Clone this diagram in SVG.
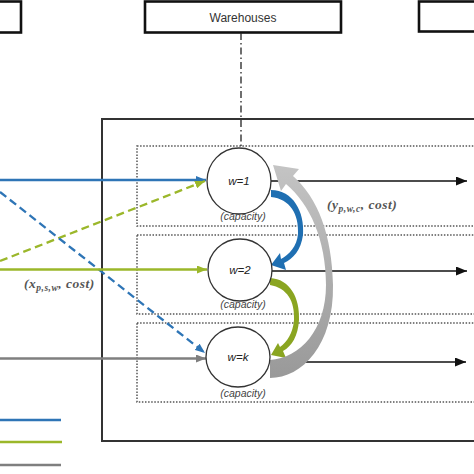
<svg xmlns="http://www.w3.org/2000/svg" width="474" height="474" viewBox="0 0 474 474">
<style>
.hdr{fill:#fff;stroke:#111;stroke-width:2.6}
.hdrt{font-family:"Liberation Sans",Arial,sans-serif;font-size:12px;fill:#333;text-anchor:middle}
.row{fill:none;stroke:#555;stroke-width:1.5;stroke-dasharray:1.5 1.6}
.node{fill:#fff;stroke:#333;stroke-width:1.3}
.nt{font-family:"Liberation Sans",Arial,sans-serif;font-style:italic;font-size:11.5px;fill:#222;text-anchor:middle}
.cap{font-family:"Liberation Sans",Arial,sans-serif;font-style:italic;font-size:10.5px;fill:#444;text-anchor:middle}
.math{font-family:"Liberation Serif","Times New Roman",serif;font-style:italic;font-weight:bold;font-size:13.5px;fill:#555;letter-spacing:0.5px}
.blue{stroke:#2e75b6;stroke-width:2.3;fill:none}
.green{stroke:#9bb72a;stroke-width:2.3;fill:none}
.gray{stroke:#7f7f7f;stroke-width:2.3;fill:none}
.black{stroke:#111;stroke-width:1.7;fill:none}
.dash{stroke-dasharray:8 4.5}
</style>
<defs>
<marker id="ab" markerUnits="userSpaceOnUse" markerWidth="10" markerHeight="8" refX="10" refY="4" orient="auto"><path d="M0,0 L10,4 L0,8 z" fill="#2e75b6"/></marker>
<marker id="ag" markerUnits="userSpaceOnUse" markerWidth="10" markerHeight="8" refX="10" refY="4" orient="auto"><path d="M0,0 L10,4 L0,8 z" fill="#9bb72a"/></marker>
<marker id="ay" markerUnits="userSpaceOnUse" markerWidth="10" markerHeight="8" refX="10" refY="4" orient="auto"><path d="M0,0 L10,4 L0,8 z" fill="#7f7f7f"/></marker>
<marker id="ak" markerUnits="userSpaceOnUse" markerWidth="11" markerHeight="9" refX="11" refY="4.5" orient="auto"><path d="M0,0 L11,4.5 L0,9 z" fill="#111"/></marker>
<linearGradient id="gg" x1="0" y1="0" x2="0" y2="1"><stop offset="0" stop-color="#c4c4c4"/><stop offset="1" stop-color="#999"/></linearGradient>
</defs>

<g id="header-left"><rect class="hdr" x="-10" y="1.5" width="31" height="31"/></g>
<g id="header-warehouses"><rect class="hdr" x="145" y="1.5" width="196" height="31"/><text class="hdrt" x="243" y="21.5">Warehouses</text></g>
<g id="header-right"><rect class="hdr" x="419" y="1.5" width="70" height="30"/></g>

<g id="frame"><rect x="102" y="119" width="400" height="322" fill="none" stroke="#333" stroke-width="2"/></g>
<g id="rows">
<rect class="row" x="137" y="146" width="345" height="80"/>
<rect class="row" x="137" y="235" width="345" height="79"/>
<rect class="row" x="137" y="323" width="345" height="79"/>
</g>

<g id="connectors">
<line x1="241" y1="33" x2="241" y2="148" stroke="#222" stroke-width="1.3" stroke-dasharray="7 3 1.5 3"/>
<line class="blue" x1="0" y1="180" x2="206" y2="180" marker-end="url(#ab)"/>
<line class="green dash" x1="0" y1="261" x2="205" y2="181" marker-end="url(#ag)"/>
<line class="blue dash" x1="0" y1="192" x2="205" y2="353" marker-end="url(#ab)"/>
<line class="green" x1="0" y1="269.5" x2="207" y2="269.5" marker-end="url(#ag)"/>
<line class="gray" x1="0" y1="358.5" x2="206" y2="358.5" marker-end="url(#ay)"/>
<line class="black" x1="271" y1="181" x2="467" y2="181" marker-end="url(#ak)"/>
<line class="black" x1="272" y1="271" x2="467" y2="271" marker-end="url(#ak)"/>
<line class="black" x1="270" y1="362" x2="466" y2="362" marker-end="url(#ak)"/>
<path d="M271 190 C293 190 305 212 303 235 C301 250 293 259 284 263 L286 270 L271 265 L280 253 L281 259 C289 255 297 246 298 234 C299 214 290 199 271 197 Z" fill="#1f6fb2"/>
<path d="M270 278 C290 279 300 298 299 320 C298 336 292 346 283 351 L286 358 L271 355 L278 343 L280 347 C287 342 293 333 294 320 C295 301 287 288 270 285 Z" fill="#8aa521"/>
<path d="M270 378 C302 378 334 345 333 285 C332 235 318 198 293 176 L299 169 L273 165 L281 191 L286 184 C310 204 326 240 326 285 C326 330 300 358 270 360 Z" fill="url(#gg)"/>
<text class="math" x="24" y="288">(x<tspan font-size="9.5" dy="3">p,s,w</tspan><tspan dy="-3">, cost)</tspan></text>
<text class="math" x="327" y="209">(y<tspan font-size="9.5" dy="3">p,w,c</tspan><tspan dy="-3">, cost)</tspan></text>
</g>

<g id="node-w1"><ellipse class="node" cx="239" cy="181" rx="32" ry="33"/><text class="nt" x="239" y="185">w=1</text><text class="cap" x="243" y="220">(capacity)</text></g>
<g id="node-w2"><ellipse class="node" cx="240" cy="270" rx="32" ry="31"/><text class="nt" x="240" y="274">w=2</text><text class="cap" x="243" y="308">(capacity)</text></g>
<g id="node-wk"><ellipse class="node" cx="238" cy="357" rx="32" ry="30"/><text class="nt" x="238" y="361">w=k</text><text class="cap" x="243" y="397">(capacity)</text></g>

<g id="legend">
<line class="blue" x1="0" y1="420" x2="61" y2="420"/>
<line class="green" x1="0" y1="442" x2="62" y2="442"/>
<line class="gray" x1="0" y1="465" x2="61" y2="465"/>
</g>
</svg>
